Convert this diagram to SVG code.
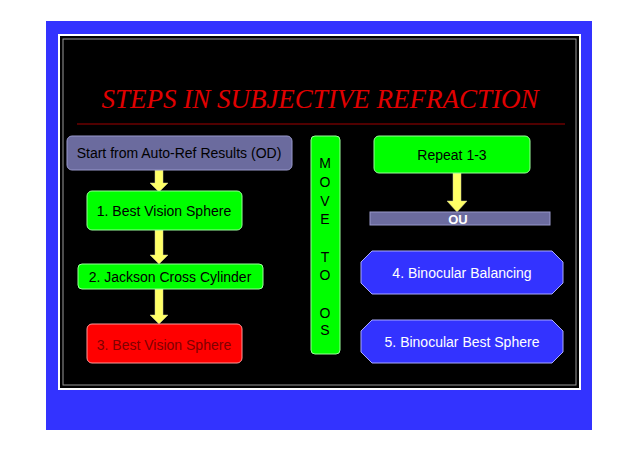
<svg xmlns="http://www.w3.org/2000/svg" width="638" height="451" viewBox="0 0 638 451">
<style>
text{font-family:"Liberation Sans",Arial,sans-serif;font-size:14px;text-anchor:middle}
.g{fill:#00ff00;stroke:#9f9;stroke-width:1}
.b{fill:#3333ff;stroke:#aaf;stroke-width:1}
.arr{fill:#ffff66;stroke:#cc9;stroke-width:0.5}
</style>
<rect width="638" height="451" fill="#fff"/>
<rect x="46" y="21" width="546" height="409" fill="#3333ff"/>
<rect x="58" y="34" width="523" height="356" fill="#fff"/>
<rect x="60" y="36" width="519" height="352" fill="#000"/>
<rect x="63" y="39" width="513" height="346" fill="none" stroke="#999" stroke-width="1"/>
<text x="320" y="108" style="font-family:'Liberation Serif',serif;font-style:italic;font-size:27px" fill="#e00000">STEPS IN SUBJECTIVE REFRACTION</text>
<line x1="77" y1="124" x2="565" y2="124" stroke="#a00000" stroke-width="1"/>
<g id="connectors">
<path class="arr" d="M155 170h8v13h5l-9 9-9-9h5z"/>
<path class="arr" d="M155 230h8v25h5l-9 9-9-9h5z"/>
<path class="arr" d="M155 289h8v26h5l-9 9-9-9h5z"/>
<path class="arr" d="M453 173h8v28h6l-10 11-10-11h6z"/>
</g>
<g id="start"><rect x="67" y="136" width="225" height="34" rx="5" fill="#6b6b9e" stroke="#99c"/><text x="179" y="158" fill="#000">Start from Auto-Ref Results (OD)</text></g>
<g id="s1"><rect class="g" x="87" y="191" width="155" height="39" rx="5"/><text x="164" y="216" fill="#000">1. Best Vision Sphere</text></g>
<g id="s2"><rect class="g" x="78" y="264" width="185" height="25" rx="4"/><text x="170" y="282" fill="#000">2. Jackson Cross Cylinder</text></g>
<g id="s3"><rect x="87" y="324" width="155" height="39" rx="5" fill="#ff0000" stroke="#f99"/><text x="164" y="350" fill="#800000">3. Best Vision Sphere</text></g>
<g id="move"><rect class="g" x="311" y="136" width="29" height="218" rx="4"/>
<text x="325" y="168" fill="#000">M</text><text x="325" y="187" fill="#000">O</text><text x="325" y="206" fill="#000">V</text><text x="325" y="224" fill="#000">E</text><text x="325" y="262" fill="#000">T</text><text x="325" y="280" fill="#000">O</text><text x="325" y="318" fill="#000">O</text><text x="325" y="335" fill="#000">S</text></g>
<g id="repeat"><rect class="g" x="374" y="136" width="156" height="37" rx="5"/><text x="452" y="160" fill="#000">Repeat 1-3</text></g>
<g id="ou"><rect x="370" y="212" width="180" height="13" fill="#6b6b9e" stroke="#99c"/><text x="458" y="224" fill="#fff" style="font-weight:bold;font-size:13px">OU</text></g>
<g id="s4"><path class="b" d="M372 251h180l11 11v21l-11 11h-180l-11-11v-21z"/><text x="462" y="278" fill="#fff">4. Binocular Balancing</text></g>
<g id="s5"><path class="b" d="M372 320h180l11 11v21l-11 11h-180l-11-11v-21z"/><text x="462" y="347" fill="#fff">5. Binocular Best Sphere</text></g>
</svg>
